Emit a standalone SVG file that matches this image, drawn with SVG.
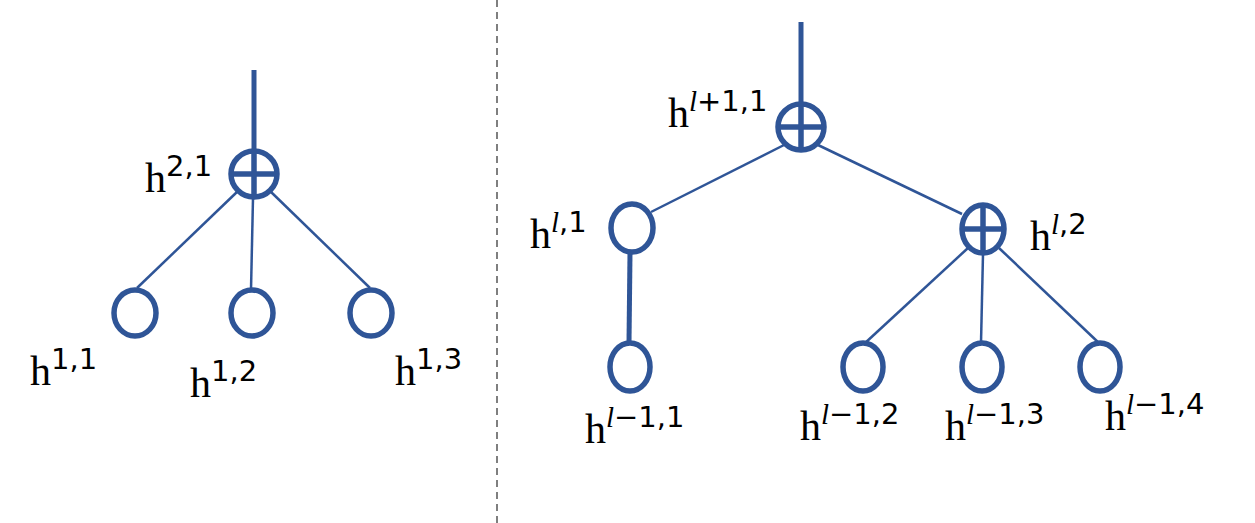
<svg xmlns="http://www.w3.org/2000/svg" width="1255" height="523" viewBox="0 0 1255 523">
<style>
.n{fill:none;stroke:#2f5597;stroke-width:5.5}
.e{stroke:#2f5597;stroke-width:2.5;fill:none}
.t{stroke:#2f5597;stroke-width:5;fill:none}
.lb{font-family:"Liberation Serif","DejaVu Serif",serif;font-size:42px;fill:#000}
.s{font-size:29px;font-family:"DejaVu Sans","Liberation Sans",sans-serif}
.i{font-style:italic;font-family:"Liberation Serif",serif}
</style>
<rect width="1255" height="523" fill="#fff"/>
<line x1="497" y1="0" x2="497" y2="523" stroke="#555" stroke-width="1.5" stroke-dasharray="7,5"/>
<g id="connectors">
<line class="t" x1="254" y1="70" x2="254" y2="152"/>
<line class="e" x1="238" y1="191" x2="137" y2="288"/>
<line class="e" x1="253" y1="198" x2="251" y2="290"/>
<line class="e" x1="270" y1="191" x2="370" y2="288"/>
<line class="t" x1="801" y1="22" x2="801" y2="104"/>
<line class="e" x1="784" y1="145" x2="651" y2="212"/>
<line class="e" x1="818" y1="145" x2="962" y2="214"/>
<line class="t" x1="630" y1="253" x2="629" y2="343"/>
<line class="e" x1="968" y1="248" x2="864" y2="344"/>
<line class="e" x1="983" y1="254" x2="981" y2="343"/>
<line class="e" x1="999" y1="248" x2="1100" y2="344"/>
</g>
<g id="h21"><circle class="n" cx="254" cy="174" r="23"/><line class="n" x1="231" y1="174" x2="277" y2="174"/><line class="n" x1="254" y1="151" x2="254" y2="197"/></g>
<g id="h11"><ellipse class="n" cx="135" cy="313" rx="21" ry="23"/></g>
<g id="h12"><ellipse class="n" cx="252" cy="313" rx="21" ry="23"/></g>
<g id="h13"><ellipse class="n" cx="371" cy="313" rx="21" ry="23"/></g>
<g id="hl11"><circle class="n" cx="801" cy="127" r="23"/><line class="n" x1="778" y1="127" x2="824" y2="127"/><line class="n" x1="801" y1="104" x2="801" y2="150"/></g>
<g id="hl1"><ellipse class="n" cx="632" cy="228" rx="21" ry="24"/></g>
<g id="hl2"><ellipse class="n" cx="983" cy="229" rx="21" ry="24"/><line class="n" x1="962" y1="229" x2="1004" y2="229"/><line class="n" x1="983" y1="205" x2="983" y2="253"/></g>
<g id="hm1"><ellipse class="n" cx="630" cy="367" rx="20" ry="24"/></g>
<g id="hm2"><ellipse class="n" cx="863" cy="367" rx="20" ry="24"/></g>
<g id="hm3"><ellipse class="n" cx="982" cy="367" rx="20" ry="24"/></g>
<g id="hm4"><ellipse class="n" cx="1100" cy="367" rx="20" ry="24"/></g>
<g id="labels">
<text class="lb" x="145" y="192">h<tspan class="s" dy="-16">2,1</tspan></text>
<text class="lb" x="30" y="385">h<tspan class="s" dy="-16">1,1</tspan></text>
<text class="lb" x="190" y="397">h<tspan class="s" dy="-16">1,2</tspan></text>
<text class="lb" x="395" y="385">h<tspan class="s" dy="-16">1,3</tspan></text>
<text class="lb" x="668" y="127">h<tspan class="s" dy="-16"><tspan class="i">l</tspan>+1,1</tspan></text>
<text class="lb" x="530" y="248">h<tspan class="s" dy="-16"><tspan class="i">l</tspan>,1</tspan></text>
<text class="lb" x="1030" y="250">h<tspan class="s" dy="-16"><tspan class="i">l</tspan>,2</tspan></text>
<text class="lb" x="585" y="443">h<tspan class="s" dy="-16"><tspan class="i">l</tspan>−1,1</tspan></text>
<text class="lb" x="800" y="440">h<tspan class="s" dy="-16"><tspan class="i">l</tspan>−1,2</tspan></text>
<text class="lb" x="945" y="440">h<tspan class="s" dy="-16"><tspan class="i">l</tspan>−1,3</tspan></text>
<text class="lb" x="1105" y="430">h<tspan class="s" dy="-16"><tspan class="i">l</tspan>−1,4</tspan></text>
</g>
</svg>
